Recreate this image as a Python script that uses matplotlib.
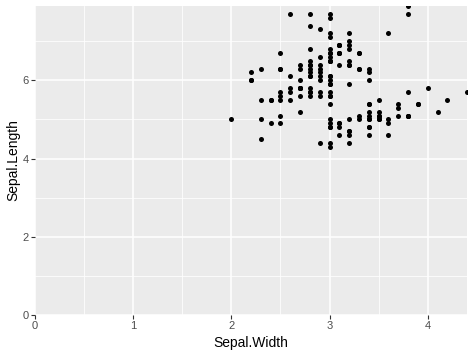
import matplotlib
matplotlib.use("Agg")
import matplotlib.pyplot as plt
from matplotlib.ticker import MultipleLocator

sepal_length = [
    5.1,4.9,4.7,4.6,5.0,5.4,4.6,5.0,4.4,4.9,5.4,4.8,4.8,4.3,5.8,5.7,5.4,5.1,5.7,5.1,
    5.4,5.1,4.6,5.1,4.8,5.0,5.0,5.2,5.2,4.7,4.8,5.4,5.2,5.5,4.9,5.0,5.5,4.9,4.4,5.1,
    5.0,4.5,4.4,5.0,5.1,4.8,5.1,4.6,5.3,5.0,
    7.0,6.4,6.9,5.5,6.5,5.7,6.3,4.9,6.6,5.2,5.0,5.9,6.0,6.1,5.6,6.7,5.6,5.8,6.2,5.6,
    5.9,6.1,6.3,6.1,6.4,6.6,6.8,6.7,6.0,5.7,5.5,5.5,5.8,6.0,5.4,6.0,6.7,6.3,5.6,5.5,
    5.5,6.1,5.8,5.0,5.6,5.7,5.7,6.2,5.1,5.7,
    6.3,5.8,7.1,6.3,6.5,7.6,4.9,7.3,6.7,7.2,6.5,6.4,6.8,5.7,5.8,6.4,6.5,7.7,7.7,6.0,
    6.9,5.6,7.7,6.3,6.7,7.2,6.2,6.1,6.4,7.2,7.4,7.9,6.4,6.3,6.1,7.7,6.3,6.4,6.0,6.9,
    6.7,6.9,5.8,6.8,6.7,6.7,6.3,6.5,6.2,5.9,
]
sepal_width = [
    3.5,3.0,3.2,3.1,3.6,3.9,3.4,3.4,2.9,3.1,3.7,3.4,3.0,3.0,4.0,4.4,3.9,3.5,3.8,3.8,
    3.4,3.7,3.6,3.3,3.4,3.0,3.4,3.5,3.4,3.2,3.1,3.4,4.1,4.2,3.1,3.2,3.5,3.6,3.0,3.4,
    3.5,2.3,3.2,3.5,3.8,3.0,3.8,3.2,3.7,3.3,
    3.2,3.2,3.1,2.3,2.8,2.8,3.3,2.4,2.9,2.7,2.0,3.0,2.2,2.9,2.9,3.1,3.0,2.7,2.2,2.5,
    3.2,2.8,2.5,2.8,2.9,3.0,2.8,3.0,2.9,2.6,2.4,2.4,2.7,2.7,3.0,3.4,3.1,2.3,3.0,2.5,
    2.6,3.0,2.6,2.3,2.7,3.0,2.9,2.9,2.5,2.8,
    3.3,2.7,3.0,2.9,3.0,3.0,2.5,2.9,2.5,3.6,3.2,2.7,3.0,2.5,2.8,3.2,3.0,3.8,2.6,2.2,
    3.2,2.8,2.8,2.7,3.3,3.2,2.8,3.0,2.8,3.0,2.8,3.8,2.8,2.8,2.6,3.0,3.4,3.1,3.0,3.1,
    3.1,3.1,2.7,3.2,3.3,3.0,2.5,3.0,3.4,3.0,
]

x_ticks = [0, 1, 2, 3, 4]
y_ticks = [0, 2, 4, 6]

plt.rcParams['font.family'] = ['Liberation Sans', 'DejaVu Sans']

fig = plt.figure(figsize=(4.74, 3.55), dpi=100)
ax = fig.add_axes([35/474, 40/355, 432/474, 309/355])
ax.set_facecolor('#EBEBEB')
ax.set_xlim(0, 4.4)
ax.set_ylim(0, 7.9)
ax.set_xticks(x_ticks)
ax.set_yticks(y_ticks)
ax.xaxis.set_minor_locator(MultipleLocator(0.5))
ax.yaxis.set_minor_locator(MultipleLocator(1))
ax.grid(which='major', color='white', linewidth=1.1)
ax.grid(which='minor', color='white', linewidth=0.55)
ax.set_axisbelow(True)
for s in ax.spines.values():
    s.set_visible(False)
ax.tick_params(which='major', direction='out', length=2.75, width=0.8, color='#333333',
               labelsize=8, labelcolor='#4D4D4D', pad=1.5)
ax.tick_params(which='minor', length=0)

ax.scatter(sepal_width, sepal_length, s=13, color='black', linewidths=0, clip_on=True)

ax.set_xlabel('Sepal.Width', fontsize=10, color='black', labelpad=3.5)
ax.set_ylabel('Sepal.Length', fontsize=10, color='black', labelpad=1.5)

fig.savefig('out.png', dpi=100)
